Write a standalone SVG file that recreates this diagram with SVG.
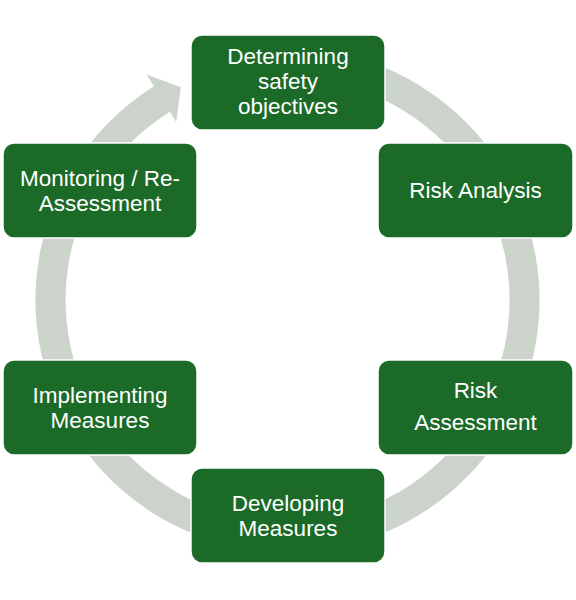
<svg xmlns="http://www.w3.org/2000/svg" width="576" height="600" viewBox="0 0 576 600">
<style>
.node rect{fill:#1b6a27;stroke:#ffffff;stroke-width:1.5}
.node text{fill:#ffffff;font-family:"Liberation Sans",Arial,sans-serif;font-size:22.5px;text-anchor:middle}
.ring{fill:#cbd3cb;stroke:none}
</style>
<rect x="0" y="0" width="576" height="600" fill="#ffffff"/>
<g id="connectors">
<path class="ring" d="M154.0,86.3 A252,252 0 1 0 309.5,49.0 L306.9,78.8 A222,222 0 1 1 169.9,111.7 L176.2,121.9 L180.9,87.2 L146.5,74.4 Z"/>
</g>
<g id="n1" class="node">
<rect x="191" y="35" width="194" height="95" rx="11"/>
<text x="288" y="63.7">Determining</text>
<text x="288" y="89">safety</text>
<text x="288" y="114.3">objectives</text>
</g>
<g id="n2" class="node">
<rect x="378" y="143" width="195" height="95" rx="11"/>
<text x="475.5" y="198">Risk Analysis</text>
</g>
<g id="n3" class="node">
<rect x="378" y="360" width="195" height="95" rx="11"/>
<text x="475.5" y="398">Risk</text>
<text x="475.5" y="430">Assessment</text>
</g>
<g id="n4" class="node">
<rect x="191" y="468" width="194" height="95" rx="11"/>
<text x="288" y="510.7">Developing</text>
<text x="288" y="536">Measures</text>
</g>
<g id="n5" class="node">
<rect x="3" y="360" width="194" height="95" rx="11"/>
<text x="100" y="402.7">Implementing</text>
<text x="100" y="428">Measures</text>
</g>
<g id="n6" class="node">
<rect x="3" y="143" width="194" height="95" rx="11"/>
<text x="100" y="185.7">Monitoring / Re-</text>
<text x="100" y="211">Assessment</text>
</g>
</svg>
